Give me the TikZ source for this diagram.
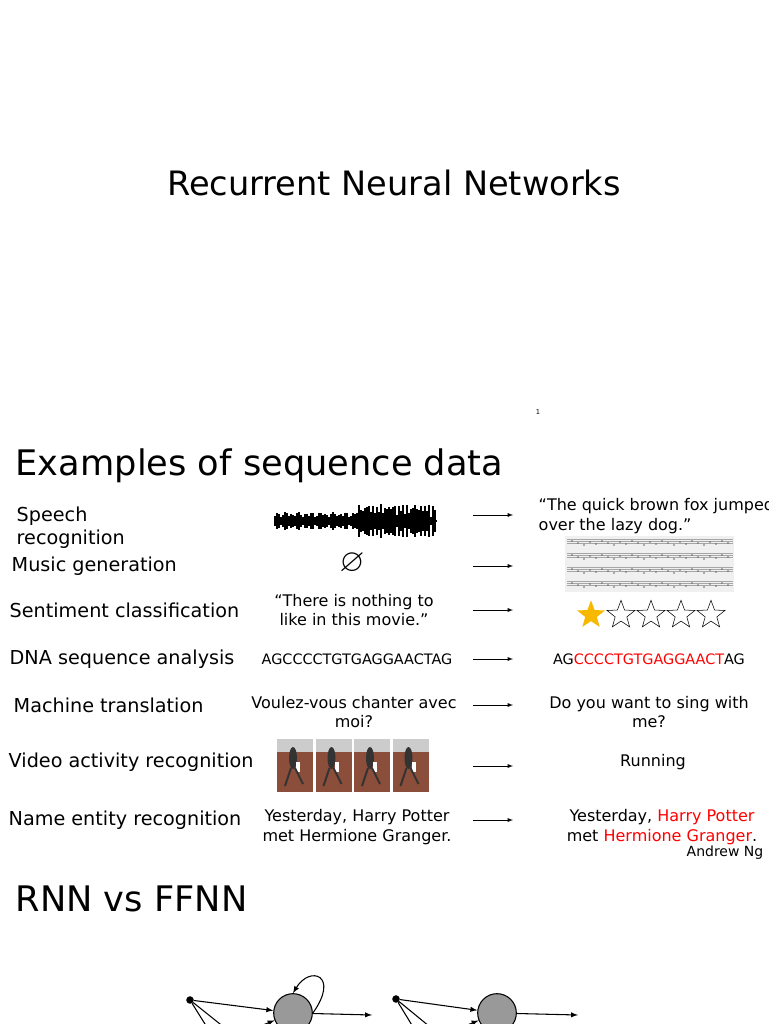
\documentclass[tikz,border=0pt]{standalone}
\usepackage{amssymb}
\usepackage{fontspec}
\setmainfont{DejaVu Sans}
\usetikzlibrary{shapes.geometric,positioning}
\definecolor{stargold}{HTML}{F7B800}
\definecolor{redtxt}{HTML}{FF0000}
\definecolor{trackbrown}{HTML}{8A4E3A}
\tikzset{
  rowlabel/.style={anchor=west,font=\fontsize{14.4}{17}\selectfont},
  intext/.style={align=center,font=\fontsize{12}{14.5}\selectfont},
  maparrow/.style={-latex,thin},
  unit/.style={circle,draw,thick,fill=gray!80,minimum size=29pt,inner sep=0pt},
  inp/.style={circle,fill=black,inner sep=2pt},
}
\begin{document}
\begin{tikzpicture}[x=0.75pt,y=-0.75pt]
  \useasboundingbox (0,0) rectangle (768,1024);
  \clip (0,0) rectangle (768,1024);
  % titel
  \node[font=\fontsize{25.2}{29}\selectfont] (title) at (394,183) {Recurrent Neural Networks};
  \node[font=\tiny] (pnum) at (538,412) {1};
  \node[anchor=west,font=\fontsize{26.4}{30}\selectfont] (examples) at (11,466) {Examples of sequence data};
  % vrstice
  \node[rowlabel,align=left] (l1) at (12,528) {Speech\\recognition};
  \node[rowlabel] (l2) at (7,566) {Music generation};
  \node[rowlabel] (l3) at (5,610) {Sentiment classification};
  \node[rowlabel] (l4) at (5,659) {DNA sequence analysis};
  \node[rowlabel] (l5) at (9,705) {Machine translation};
  \node[rowlabel] (l6) at (4,762) {Video activity recognition};
  \node[rowlabel] (l7) at (4,820) {Name entity recognition};
  % vhodi
  \foreach \i in {0,...,80}{
    \pgfmathsetmacro{\h}{2+abs(4*sin(\i*53))+(\i>40)*abs(9*sin(\i*97))+abs(3*cos(\i*31))}
    \draw[line width=1.1pt] ({275+\i*2},{521-\h}) -- ({275+\i*2},{521+\h});
  }
  \draw[line width=1.2pt] (275,521) -- (437,521);
  \node[font=\fontsize{24}{26}\selectfont] (empty) at (352,563) {$\varnothing$};
  \node[intext] (in3) at (354,610) {“There is nothing to\\like in this movie.”};
  \node[font=\fontsize{10.8}{13}\selectfont] (in4) at (357,659) {AGCCCCTGTGAGGAACTAG};
  \node[intext] (in5) at (354,712) {Voulez-vous chanter avec\\moi?};
  \foreach \k in {0,1,2,3}{
    \fill[trackbrown] ({277+\k*38.5},739) rectangle ({313+\k*38.5},792);
    \fill[gray!40] ({277+\k*38.5},739) rectangle ({313+\k*38.5},752);
    \fill[black!80] ({293+\k*38.5},758) ellipse (4 and 11);
    \fill[white] ({296+\k*38.5},762) rectangle ({300+\k*38.5},772);
    \draw[black!80,line width=1.5pt] ({291+\k*38.5},768) -- ({285+\k*38.5},786) ({295+\k*38.5},768) -- ({303+\k*38.5},784);
  }
  \node[intext] (in7) at (357,827) {Yesterday, Harry Potter\\met Hermione Granger.};
  % puščice
  \foreach \y/\n in {515/a1,566/a2,610/a3,659/a4,705/a5,766/a6,820/a7}{
    \coordinate (\n s) at (473,\y);
    \coordinate (\n e) at (513,\y);
    \draw[maparrow] (\n s) -- (\n e);
  }
  % izhodi
  \node[intext,align=left,anchor=west] (out1) at (534,516) {“The quick brown fox jumped\\over the lazy dog.”};
  \fill[gray!12] (565,536) rectangle (734,592);
  \foreach \r in {0,1,2,3}{
    \foreach \s in {0,2,4}{
      \draw[gray!70,very thin] (567,{539+\r*14+\s}) -- (733,{539+\r*14+\s});
    }
    \foreach \n in {0,...,26}{
      \fill[gray!80!black] ({572+\n*6},{541+\r*14+mod(\n*7,5)}) circle (0.9);
    }
  }
  \node[star,star points=5,star point ratio=2.4,fill=stargold,minimum size=22pt,inner sep=0pt] (s1) at (591,615) {};
  \foreach \k in {1,...,4}{
    \node[star,star points=5,star point ratio=2.4,draw,minimum size=22pt,inner sep=0pt] (s\k b) at ({591+\k*30},615) {};
  }
  \node[font=\fontsize{10.8}{13}\selectfont] (out4) at (649,659) {AG\textcolor{redtxt}{CCCCTGTGAGGAACT}AG};
  \node[intext] (out5) at (649,712) {Do you want to sing with\\me?};
  \node[intext] (out6) at (653,762) {Running};
  \node[intext] (out7) at (662,827) {Yesterday, \textcolor{redtxt}{Harry Potter}\\met \textcolor{redtxt}{Hermione Granger}.};
  \node[font=\fontsize{10.5}{12}\selectfont] (ng) at (725,853) {Andrew Ng};
  % RNN vs FFNN
  \node[anchor=west,font=\fontsize{26.4}{30}\selectfont] (rnnvs) at (11,899) {RNN vs FFNN};
  \node[inp] (x1) at (190,1000) {};
  \node[unit] (h1) at (293,1013) {};
  \coordinate (y1) at (372,1015);
  \coordinate (x1b) at (150,1070);
  \coordinate (x1c) at (230,1080);
  \draw[-latex,thick] (x1) -- (h1);
  \draw[thick] (x1) -- (215,1040) (x1) -- (240,1040);
  \draw[-latex,thick] (x1b) -- (h1);
  \draw[-latex,thick] (x1c) -- (h1);
  \draw[-latex,thick] (h1) -- (y1);
  \draw[-latex,thick] (h1.east) .. controls (340,975) and (310,965) .. (h1.north);
  \node[inp] (x2) at (396,999) {};
  \node[unit] (h2) at (497,1013) {};
  \coordinate (y2) at (578,1015);
  \coordinate (x2b) at (356,1070);
  \coordinate (x2c) at (436,1080);
  \draw[-latex,thick] (x2) -- (h2);
  \draw[thick] (x2) -- (421,1040) (x2) -- (446,1040);
  \draw[-latex,thick] (x2b) -- (h2);
  \draw[-latex,thick] (x2c) -- (h2);
  \draw[-latex,thick] (h2) -- (y2);
\end{tikzpicture}
\end{document}
